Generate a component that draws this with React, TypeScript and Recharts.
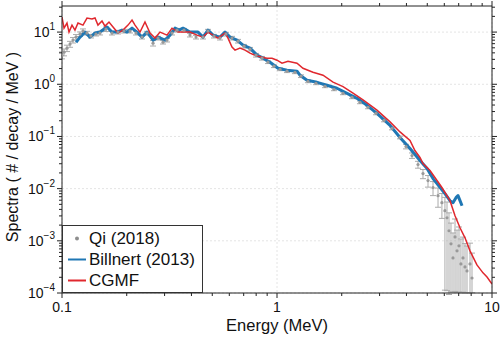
import React from "react";
import { CartesianGrid, ComposedChart, ErrorBar, Label, Legend, Line, Scatter, XAxis, YAxis } from "recharts";

const FONT = "'Liberation Sans', Arial, Helvetica, sans-serif";

// CGMF calculation
const cgmfEnergy = [
  0.1, 0.1022, 0.1055, 0.1078, 0.1113, 0.1149, 0.1187, 0.1252, 0.1307, 0.1379, 0.1424, 0.147, 0.1535, 0.1585,
  0.1654, 0.1727, 0.1822, 0.1921, 0.2028, 0.2117, 0.2186, 0.2306, 0.2432, 0.2567, 0.2708, 0.2857, 0.3079, 0.3249,
  0.3464, 0.3615, 0.3938, 0.4246, 0.4527, 0.4776, 0.5039, 0.5316, 0.573, 0.5917, 0.6176, 0.6377, 0.6728, 0.7099,
  0.7489, 0.7901, 0.8516, 0.8985, 0.948, 1.0, 1.055, 1.125, 1.239, 1.321, 1.47, 1.637, 1.822, 2.028, 2.257, 2.512,
  2.917, 3.355, 3.733, 4.155, 4.38, 4.624, 4.775, 5.149, 5.848, 6.377, 6.73, 7.099, 7.489, 7.901, 8.155, 8.51,
  8.79, 9.08, 9.48, 10.0,
];
const cgmfSpectrum = [
  19.4, 11.9, 14.9, 10.0, 13.6, 10.9, 14.9, 13.6, 18.6, 17.8, 18.6, 13.6, 16.3, 13.0, 15.6, 12.5, 9.57, 10.9, 13.6,
  17.0, 13.6, 10.0, 15.6, 9.57, 7.67, 10.0, 8.76, 11.9, 10.0, 10.0, 10.0, 8.76, 8.01, 10.0, 8.76, 7.67, 9.57, 7.67,
  5.15, 4.51, 4.92, 4.51, 3.95, 3.61, 3.3, 3.16, 3.16, 2.89, 2.53, 2.77, 2.53, 2.03, 1.7, 1.49, 1.1, 0.9, 0.68, 0.5,
  0.32, 0.19, 0.122, 0.084, 0.0538, 0.0395, 0.0303, 0.0222, 0.0105, 0.00588, 0.00303, 0.00178, 0.00114, 0.000642,
  0.000492, 0.000345, 0.00029, 0.000243, 0.000203, 0.000149,
];

// Billnert (2013)
const billnertEnergy = [
  0.1162, 0.1213, 0.1279, 0.135, 0.1424, 0.1502, 0.1619, 0.1708, 0.1803, 0.1901, 0.2006, 0.2117, 0.2234, 0.2356,
  0.2485, 0.2651, 0.2797, 0.3014, 0.318, 0.3355, 0.3501, 0.3654, 0.3938, 0.4292, 0.4527, 0.4776, 0.5039, 0.5431,
  0.573, 0.6045, 0.6516, 0.6948, 0.7489, 0.8072, 0.8608, 0.9278, 1.011, 1.113, 1.239, 1.279, 1.379, 1.535, 1.708,
  1.901, 2.117, 2.356, 2.622, 2.917, 3.355, 3.733, 4.155, 4.624, 4.988, 5.317, 6.04, 6.377, 6.586, 6.8, 6.948,
  7.099, 7.254,
];
const billnertSpectrum = [
  6.4, 8.01, 10.0, 8.01, 9.57, 10.0, 12.5, 10.0, 10.0, 10.9, 10.0, 11.9, 10.0, 8.01, 10.0, 7.02, 8.01, 7.02, 8.76,
  11.9, 10.9, 11.9, 10.0, 10.0, 8.01, 10.9, 8.76, 8.01, 10.0, 8.01, 7.02, 5.62, 4.92, 3.61, 3.16, 2.65, 2.03, 1.86,
  1.78, 1.49, 1.19, 1.09, 0.957, 0.838, 0.671, 0.538, 0.395, 0.277, 0.163, 0.0957, 0.0588, 0.0345, 0.0243, 0.0156,
  0.008, 0.00588, 0.00538, 0.00671, 0.00733, 0.00588, 0.00471,
];

// Qi (2018) measurement with relative errors
const qiEnergy = [
  0.1, 0.1022, 0.1055, 0.109, 0.1125, 0.1162, 0.1213, 0.1252, 0.1307, 0.1364, 0.1439, 0.1502, 0.1602, 0.1708,
  0.1822, 0.1943, 0.2072, 0.2209, 0.2356, 0.2485, 0.2651, 0.2797, 0.295, 0.3079, 0.3249, 0.3426, 0.3693, 0.3938,
  0.4201, 0.4527, 0.4776, 0.5093, 0.5431, 0.5791, 0.6176, 0.6586, 0.7022, 0.7489, 0.7986, 0.8516, 0.9082, 0.968,
  1.033, 1.113, 1.212, 1.293, 1.393, 1.518, 1.672, 1.841, 2.028, 2.233, 2.432, 2.651, 2.887, 3.147, 3.427, 3.733,
  3.981, 4.246, 4.527, 4.775, 5.039, 5.317, 5.61, 5.848, 6.04, 6.176, 6.31, 6.446, 6.586, 6.73, 6.875, 7.022, 7.17,
  7.33, 7.489, 7.65, 7.901, 8.072,
];
const qiSpectrum = [
  3.61, 4.12, 4.92, 5.88, 7.02, 8.01, 9.15, 10.45, 9.57, 8.38, 9.15, 9.57, 11.4, 9.57, 10.0, 10.45, 10.45, 9.57,
  8.01, 9.57, 6.14, 7.67, 6.42, 7.02, 9.57, 10.9, 10.9, 8.76, 8.01, 8.01, 10.45, 8.38, 7.67, 9.15, 7.67, 6.71, 5.38,
  4.71, 3.61, 3.16, 2.65, 2.22, 1.94, 1.78, 1.7, 1.43, 1.14, 1.045, 0.915, 0.801, 0.671, 0.562, 0.451, 0.361, 0.277,
  0.203, 0.1425, 0.0957, 0.0642, 0.0431, 0.029, 0.0194, 0.01425, 0.0105, 0.00733, 0.00538, 0.00378, 0.00277,
  0.00156, 0.000875, 0.000471, 0.00119, 0.000642, 0.0008, 0.000361, 0.000471, 0.000316, 0.000265, 0.000361,
  0.000194,
];
const qiErrLow = [
  0.15, 0.15, 0.14, 0.13, 0.12, 0.12, 0.1, 0.1, 0.08, 0.08, 0.08, 0.08, 0.1, 0.08, 0.08, 0.08, 0.08, 0.08, 0.08,
  0.08, 0.12, 0.08, 0.08, 0.08, 0.08, 0.08, 0.08, 0.08, 0.08, 0.08, 0.08, 0.08, 0.08, 0.08, 0.08, 0.08, 0.08, 0.08,
  0.08, 0.08, 0.06, 0.06, 0.06, 0.06, 0.06, 0.06, 0.06, 0.06, 0.06, 0.06, 0.06, 0.06, 0.06, 0.06, 0.06, 0.06, 0.06,
  0.06, 0.1, 0.12, 0.15, 0.2, 0.25, 0.3, 0.4, 0.5, 0.97, 0.96, 0.94, 0.88, 0.78, 0.91, 0.84, 0.87, 0.72, 0.78, 0.68,
  0.62, 0.72, 0.48,
];
const qiErrHigh = [
  0.15, 0.15, 0.14, 0.13, 0.12, 0.12, 0.1, 0.1, 0.08, 0.08, 0.08, 0.08, 0.1, 0.08, 0.08, 0.08, 0.08, 0.08, 0.08,
  0.08, 0.12, 0.08, 0.08, 0.08, 0.08, 0.08, 0.08, 0.08, 0.08, 0.08, 0.08, 0.08, 0.08, 0.08, 0.08, 0.08, 0.08, 0.08,
  0.08, 0.08, 0.06, 0.06, 0.06, 0.06, 0.06, 0.06, 0.06, 0.06, 0.06, 0.06, 0.06, 0.06, 0.06, 0.06, 0.06, 0.06, 0.06,
  0.06, 0.1, 0.12, 0.15, 0.2, 0.25, 0.3, 0.4, 0.5, 0.8, 1.0, 1.2, 1.5, 2.0, 1.2, 1.5, 1.3, 2.0, 1.5, 1.8, 2.0, 1.5,
  2.0,
];

const xTicks = [0.1, 0.2, 0.3, 0.4, 0.5, 0.6, 0.7, 0.8, 0.9, 1, 2, 3, 4, 5, 6, 7, 8, 9, 10];
const yTicks = [
  0.0001, 0.0002, 0.0003, 0.0004, 0.0005, 0.0006, 0.0007, 0.0008, 0.0009,
  0.001, 0.002, 0.003, 0.004, 0.005, 0.006, 0.007, 0.008, 0.009,
  0.01, 0.02, 0.03, 0.04, 0.05, 0.06, 0.07, 0.08, 0.09,
  0.1, 0.2, 0.3, 0.4, 0.5, 0.6, 0.7, 0.8, 0.9,
  1, 2, 3, 4, 5, 6, 7, 8, 9, 10, 20, 30,
];
const xMajor = [0.1, 1, 10];
const yMajor = [0.0001, 0.001, 0.01, 0.1, 1, 10];

const cgmfData = cgmfEnergy.map((e, i) => ({ e, v: cgmfSpectrum[i] }));
const billnertData = billnertEnergy.map((e, i) => ({ e, v: billnertSpectrum[i] }));
const qiData = qiEnergy.map((e, i) => ({
  e,
  v: qiSpectrum[i],
  err: [qiSpectrum[i] * qiErrLow[i], qiSpectrum[i] * qiErrHigh[i]],
}));

const isMajor = (v: number) => Math.abs(Math.log10(v) - Math.round(Math.log10(v))) < 1e-6;
const AXIS = "#222";

const BottomTick = ({ x, y, payload }: any) => {
  const major = isMajor(payload.value);
  return (
    <g>
      <line x1={x} x2={x} y1={y} y2={y + (major ? 5 : 3)} stroke={AXIS} />
      {major && (
        <text x={x} y={y + 19} textAnchor="middle" fontSize={14} fill="#111" fontFamily={FONT}>
          {String(payload.value)}
        </text>
      )}
    </g>
  );
};

const TopTick = ({ x, y, payload }: any) => {
  const major = isMajor(payload.value);
  return <line x1={x} x2={x} y1={y} y2={y - (major ? 5 : 3)} stroke={AXIS} />;
};

const LeftTick = ({ x, y, payload }: any) => {
  const major = isMajor(payload.value);
  const exp = Math.round(Math.log10(payload.value));
  return (
    <g>
      <line x1={x} x2={x - (major ? 5 : 3)} y1={y} y2={y} stroke={AXIS} />
      {major && (
        <text x={x - 7} y={y + 5} textAnchor="end" fontSize={14} fill="#111" fontFamily={FONT}>
          10
          <tspan dy={-7} fontSize={10}>
            {exp < 0 ? "\u2212" + Math.abs(exp) : String(exp)}
          </tspan>
        </text>
      )}
    </g>
  );
};

const RightTick = ({ x, y, payload }: any) => {
  const major = isMajor(payload.value);
  return <line x1={x} x2={x + (major ? 5 : 3)} y1={y} y2={y} stroke={AXIS} />;
};

const QiDot = ({ cx, cy }: any) => <circle cx={cx} cy={cy} r={1.6} fill="#999" />;

const legendRows = [
  { name: "Qi (2018)", kind: "dot", color: "#8e8e8e" },
  { name: "Billnert (2013)", kind: "line", color: "#1f77b4" },
  { name: "CGMF", kind: "line", color: "#e0282e" },
];

const LegendBox = () => (
  <div
    style={{
      width: 141,
      height: 68,
      boxSizing: "border-box",
      border: "1px solid #333",
      background: "#fff",
      paddingTop: 2,
      fontFamily: FONT,
      fontSize: 17,
      color: "#111",
    }}
  >
    {legendRows.map((r) => (
      <div key={r.name} style={{ display: "flex", alignItems: "center", height: 21, lineHeight: "21px" }}>
        <svg width={26} height={21} style={{ flex: "none" }}>
          {r.kind === "dot" ? (
            <circle cx={14} cy={10.5} r={2} fill={r.color} />
          ) : (
            <line x1={5} x2={23} y1={10.5} y2={10.5} stroke={r.color} strokeWidth={2} />
          )}
        </svg>
        <span style={{ whiteSpace: "nowrap" }}>{r.name}</span>
      </div>
    ))}
  </div>
);

export default function App() {
  return (
    <div style={{ position: "absolute", left: 0, top: 0, background: "#fff" }}>
      <ComposedChart width={503} height={338} margin={{ top: 5, right: 10, bottom: 0, left: 12 }}>
        <CartesianGrid
          stroke="#e4e4e4"
          strokeDasharray="2 2"
          verticalValues={xMajor}
          horizontalValues={yMajor}
        />
        <XAxis
          dataKey="e"
          type="number"
          scale="log"
          domain={[0.1, 10]}
          allowDataOverflow
          ticks={xTicks}
          interval={0}
          tickSize={0}
          tickMargin={0}
          tickLine={false}
          tick={BottomTick}
          axisLine={{ stroke: AXIS }}
          height={45}
        >
          <Label
            content={() => (
              <text x={277} y={331} textAnchor="middle" fontSize={16.5} fill="#111" fontFamily={FONT}>
                Energy (MeV)
              </text>
            )}
          />
        </XAxis>
        <XAxis
          xAxisId="top"
          orientation="top"
          dataKey="e"
          type="number"
          scale="log"
          domain={[0.1, 10]}
          allowDataOverflow
          ticks={xTicks}
          interval={0}
          tickSize={0}
          tickMargin={0}
          tickLine={false}
          tick={TopTick}
          axisLine={{ stroke: AXIS }}
          height={1}
        />
        <YAxis
          type="number"
          scale="log"
          domain={[0.0001, 31.62]}
          allowDataOverflow
          ticks={yTicks}
          interval={0}
          tickSize={0}
          tickMargin={0}
          tickLine={false}
          tick={LeftTick}
          axisLine={{ stroke: AXIS }}
          width={50}
        >
          <Label
            content={() => (
              <text
                x={0}
                y={0}
                transform="translate(18 147) rotate(-90)"
                textAnchor="middle"
                fontSize={16}
                fill="#111"
                fontFamily={FONT}
              >
                Spectra ( # / decay / MeV )
              </text>
            )}
          />
        </YAxis>
        <YAxis
          yAxisId="right"
          orientation="right"
          type="number"
          scale="log"
          domain={[0.0001, 31.62]}
          allowDataOverflow
          ticks={yTicks}
          interval={0}
          tickSize={0}
          tickMargin={0}
          tickLine={false}
          tick={RightTick}
          axisLine={{ stroke: AXIS }}
          width={1}
        />
        <Scatter name="Qi (2018)" data={qiData} dataKey="v" shape={QiDot} isAnimationActive={false}>
          <ErrorBar dataKey="err" direction="y" width={3} stroke="#ababab" strokeWidth={1} isAnimationActive={false} />
        </Scatter>
        <Line
          name="Billnert (2013)"
          data={billnertData}
          dataKey="v"
          stroke="#1f77b4"
          strokeWidth={3}
          strokeLinejoin="round"
          dot={false}
          isAnimationActive={false}
        />
        <Line
          name="CGMF"
          data={cgmfData}
          dataKey="v"
          stroke="#e0282e"
          strokeWidth={1.5}
          dot={false}
          isAnimationActive={false}
        />
        <Legend
          layout="vertical"
          align="center"
          verticalAlign="middle"
          wrapperStyle={{ left: 62, top: 225, width: 141, height: 68 }}
          content={LegendBox}
        />
      </ComposedChart>
    </div>
  );
}
